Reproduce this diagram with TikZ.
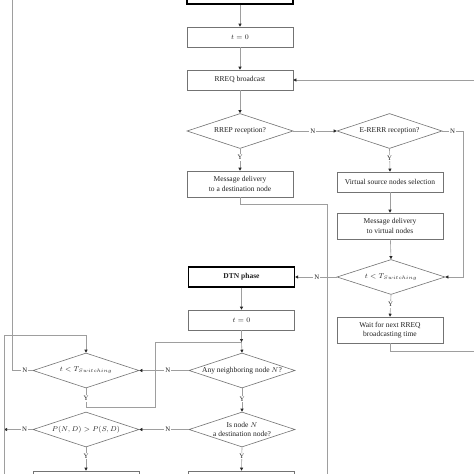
\documentclass[tikz,border=0pt]{standalone}
\usepackage{fontspec}
\setmainfont{Liberation Serif}
\usetikzlibrary{arrows.meta,shapes.geometric}
\definecolor{linec}{gray}{0.62}
\definecolor{boxc}{gray}{0.45}
\definecolor{txtc}{gray}{0.13}
\tikzset{
  every node/.style={font=\fontsize{7.5}{9.5}\selectfont, text=txtc},
  box/.style={draw=boxc, line width=0.6pt, rectangle, minimum width=106pt, minimum height=20pt, inner sep=0pt, align=center},
  tallbox/.style={box, minimum height=26pt},
  boldbox/.style={box, draw=black, line width=1.2pt, font=\fontsize{7.5}{9.5}\selectfont\bfseries},
  dia/.style={draw=boxc, line width=0.6pt, diamond, minimum width=106pt, minimum height=35pt, inner sep=0pt},
  conn/.style={draw=linec, line width=0.6pt},
  arr/.style={conn, -{Triangle[length=3pt,width=3pt,color=black!85]}},
  lab/.style={fill=white, inner sep=1pt, font=\fontsize{6.8}{8}\selectfont}
}
\begin{document}
\begin{tikzpicture}[x=1pt,y=-1pt]
\useasboundingbox (0,0) rectangle (474,474);
\clip (0,0) rectangle (474,474);
\fill[white] (0,0) rectangle (474,474);

% nodes
\node[boldbox] (start) at (240,-6) {};
\node[box] (t0a) at (240,37) {$t = 0$};
\node[box] (rreq) at (240,80) {RREQ broadcast};
\node[dia, label={center:RREP reception?}] (d1) at (240,131) {};
\node[dia, minimum width=105pt, label={center:E-RERR reception?}] (d2) at (389.5,131) {};
\node[tallbox] (md1) at (240,184) {Message delivery\\to a destination node};
\node[box] (vs) at (390,182) {Virtual source nodes selection};
\node[tallbox] (md2) at (390,226) {Message delivery\\to virtual nodes};
\node[dia, minimum width=108pt, label={center:$t < T_{Switching}$}] (d3) at (391,277) {};
\node[boldbox] (dtn) at (241.5,277) {DTN phase};
\node[box] (t0b) at (241.5,320) {$t = 0$};
\node[tallbox] (wait) at (390,330) {Wait for next RREQ\\broadcasting time};
\node[dia, label={center:Any neighboring node $N$?}] (d4) at (242,370.5) {};
\node[dia, label={center:$t < T_{Switching}$}] (d5) at (86,370.5) {};
\node[dia, label={[align=center]center:Is node $N$\\a destination node?}] (d6) at (242,429.5) {};
\node[dia, label={center:$P(N,D) > P(S,D)$}] (d7) at (86,429.5) {};
\node[box] (b1) at (241.5,481) {};
\node[box] (b2) at (86,481) {};

\coordinate (j) at (241.5,342);
\coordinate (rtop) at (463,131);
\coordinate (rbot) at (463,277);

% connectors
\draw[arr] (start) -- (t0a);
\draw[arr] (t0a) -- (rreq);
\draw[arr] (rreq) -- (d1.north);
\draw[arr] (d1.east) -- node[lab,pos=0.45]{N} (d2.west);
\draw[arr] (d1.south) -- node[lab,pos=0.4]{Y} (md1.north);
\draw[arr] (d2.south) -- node[lab,pos=0.4]{Y} (vs.north);
\draw[arr] (vs) -- (md2);
\draw[arr] (md2) -- (d3.north);
\draw[arr] (d2.east) -- node[lab]{N} (rtop) -- (rbot) -- (d3.east);
\draw[conn] (md1.south) -- (240,204) -- (327,204) -- (327,490);
\draw[arr] (d3.west) -- node[lab,pos=0.48]{N} (dtn.east);
\draw[arr] (d3.south) -- node[lab,pos=0.45]{Y} (wait.north);
\draw[arr] (wait.south) -- (390,351) -- (490,351) -- (490,80) -- (rreq.east);
\draw[arr] (dtn) -- (t0b);
\draw[arr] (t0b) -- (j);
\draw[arr] (j) -- (d4.north);
\draw[arr] (d4.west) -- node[lab,pos=0.42]{N} (d5.east);
\draw[conn] (d5.west) -- node[lab,pos=0.38]{N} (12,370.5) -- (12,-20);
\draw[conn] (d5.south) -- node[lab,pos=0.55]{Y} (86,407) -- (155,407) -- (155,342) -- (j);
\draw[arr] (d4.south) -- node[lab,pos=0.45]{Y} (d6.north);
\draw[arr] (d6.west) -- node[lab,pos=0.42]{N} (d7.east);
\draw[arr] (d6.south) -- node[lab,pos=0.38]{Y} (b1.north);
\draw[arr] (d7.south) -- node[lab,pos=0.38]{Y} (b2.north);
\draw[arr] (d7.west) -- node[lab,pos=0.28]{N} (4,429.5);
\draw[arr] (4,490) -- (4,335) -- (86,335) -- (d5.north);
\end{tikzpicture}
\end{document}
